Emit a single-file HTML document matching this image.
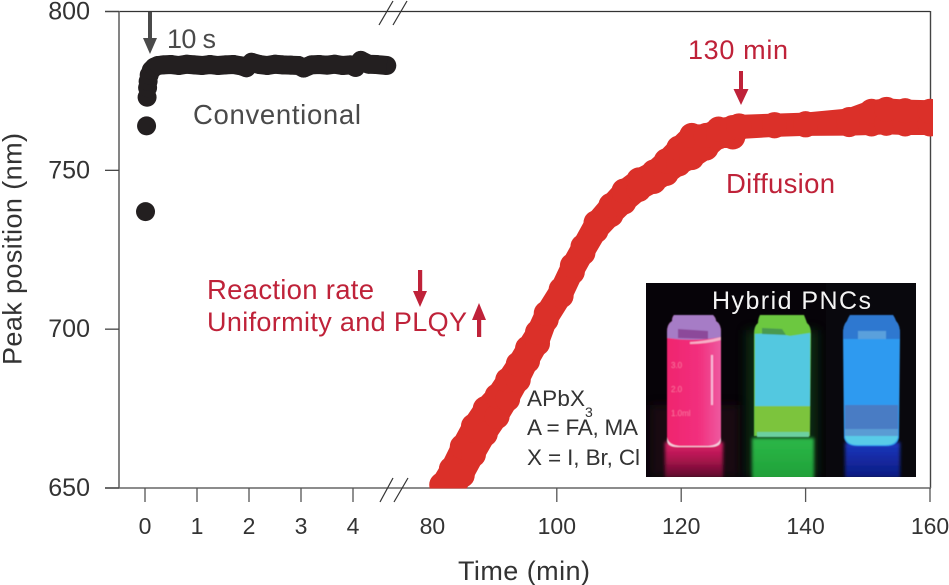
<!DOCTYPE html>
<html lang="en">
<head>
<meta charset="utf-8">
<title>Peak position vs time</title>
<style>
html,body{margin:0;padding:0;background:#fff;width:949px;height:585px;overflow:hidden}
svg{display:block}
text{font-family:"Liberation Sans",sans-serif}
</style>
</head>
<body>
<svg id="chart" xmlns="http://www.w3.org/2000/svg" width="949" height="585" viewBox="0 0 949 585">
<defs>
<clipPath id="plotClip"><rect x="119" y="0" width="814" height="488.5"/></clipPath>
<clipPath id="insetClip"><rect x="646" y="283" width="270" height="194"/></clipPath>
<filter id="b05" x="-10%" y="-10%" width="120%" height="120%"><feGaussianBlur stdDeviation="0.6"/></filter>
<filter id="b1" x="-20%" y="-20%" width="140%" height="140%"><feGaussianBlur stdDeviation="1.5"/></filter>
<filter id="b4" x="-30%" y="-30%" width="160%" height="160%"><feGaussianBlur stdDeviation="5"/></filter>
<linearGradient id="pinkRef" x1="0" y1="0" x2="0" y2="1"><stop offset="0" stop-color="#e0206a"/><stop offset=".5" stop-color="#a8144c"/><stop offset="1" stop-color="#5a0a2a"/></linearGradient>
<linearGradient id="greenRef" x1="0" y1="0" x2="0" y2="1"><stop offset="0" stop-color="#2cb848"/><stop offset="1" stop-color="#1f9f38"/></linearGradient>
<linearGradient id="blueRef" x1="0" y1="0" x2="0" y2="1"><stop offset="0" stop-color="#1c38c0"/><stop offset="1" stop-color="#0c1a80"/></linearGradient>
<linearGradient id="pinkBody" x1="0" y1="0" x2="1" y2="0"><stop offset="0" stop-color="#f0246e"/><stop offset=".6" stop-color="#f2307e"/><stop offset="1" stop-color="#ee5aa0"/></linearGradient>
</defs>

<g id="axes">
  <line x1="105" y1="11.5" x2="930" y2="11.5" stroke="#333" stroke-width="1.2"/>
  <line x1="119" y1="11" x2="119" y2="488" stroke="#666" stroke-width="1.6"/>
  <line x1="930.5" y1="11" x2="930.5" y2="488" stroke="#444" stroke-width="1.4"/>
  <line x1="105" y1="488" x2="931" y2="488" stroke="#666" stroke-width="1.4"/>
  <g stroke="#333" stroke-width="1.2">
    <line x1="379" y1="25" x2="393" y2="1"/><line x1="393" y1="25" x2="407" y2="1"/>
  </g>
  <g stroke="#333" stroke-width="1.2">
    <line x1="380" y1="502" x2="393" y2="478"/><line x1="394" y1="502" x2="408" y2="478"/>
  </g>
</g>
<g id="ticks"></g>
<g id="tickLabels"></g>
<g id="redSeries" clip-path="url(#plotClip)"></g>
<g id="blackSeries"></g>

<text transform="translate(21.5,365) rotate(-90)" font-size="27" fill="#333" textLength="232" lengthAdjust="spacing">Peak position (nm)</text>
<text x="458" y="580" font-size="27" fill="#333" textLength="132" lengthAdjust="spacing">Time (min)</text>

<text x="167" y="48" font-size="27" fill="#4a4a4a" textLength="49" lengthAdjust="spacing">10 s</text>
<text x="193" y="124" font-size="27.5" fill="#4a4a4a" textLength="168" lengthAdjust="spacing">Conventional</text>
<text x="688" y="59" font-size="27" fill="#bf2239" textLength="100" lengthAdjust="spacing">130 min</text>
<text x="726" y="193" font-size="27.5" fill="#bf2239" textLength="109" lengthAdjust="spacing">Diffusion</text>
<text x="207" y="299" font-size="27.5" fill="#bf2239" textLength="167" lengthAdjust="spacing">Reaction rate</text>
<text x="207" y="331" font-size="27" fill="#bf2239" textLength="260" lengthAdjust="spacing">Uniformity and PLQY</text>

<g fill="#333" font-size="22.5">
  <text x="527" y="406" textLength="58" lengthAdjust="spacing">APbX</text>
  <text x="585" y="417" font-size="14">3</text>
  <text x="527" y="435" textLength="111" lengthAdjust="spacing">A = FA, MA</text>
  <text x="527" y="465" textLength="113" lengthAdjust="spacing">X = I, Br, Cl</text>
</g>

<g fill="#4a4a4a">
  <rect x="148" y="12" width="4" height="30"/><polygon points="143,38 157,38 150,54"/>
</g>
<g fill="#bf2239">
  <rect x="739" y="71" width="4" height="24"/><polygon points="733.5,89 748.5,89 741,105"/>
</g>
<g fill="#bf2239">
  <rect x="418" y="270" width="4.2" height="26"/><polygon points="413,291 427,291 420,307"/>
</g>
<g fill="#bf2239">
  <rect x="477" y="315" width="4.2" height="22"/><polygon points="472,320 486,320 479,303"/>
</g>

<g clip-path="url(#insetClip)">
  <rect x="646" y="283" width="270" height="194" fill="#060308"/>
  <rect x="650" y="405" width="90" height="72" fill="#200716" opacity=".7" filter="url(#b4)"/>
  <rect x="746" y="330" width="72" height="147" fill="#0c3a14" opacity=".7" filter="url(#b4)"/>
  <rect x="826" y="283" width="90" height="194" fill="#09080d"/>
  <g filter="url(#b05)">
    <rect x="665" y="442" width="58" height="36" fill="url(#pinkRef)" filter="url(#b1)"/>
    <path d="M674,315 L713,315 Q716,318 716,321 Q721,324 721,332 L721,438 Q721,447 710,447 L678,447 Q667,447 667,438 L667,332 Q667,324 672,321 Q672,317 674,315 Z" fill="url(#pinkBody)"/>
    <path d="M674,315 L713,315 Q716,318 716,321 Q721,324 721,332 L721,337 Q695,342 667,338 L667,332 Q667,324 672,321 Q672,317 674,315 Z" fill="#a67cc6"/>
    <path d="M678,329 L708,331 L708,339 L678,338 Z" fill="#8c4a9a"/>
    <path d="M690,342 Q706,341 721,337 L721,340 Q706,344 690,344 Z" fill="#f6b0c8"/>
    <path d="M667,437 Q668,445 680,446 L708,446 Q720,445 721,437 L721,440 Q721,447 710,447 L678,447 Q667,447 667,440 Z" fill="#f6d0e0"/>
    <rect x="711" y="355" width="2" height="50" fill="#f8b8d8"/>
    <text x="671" y="368" font-size="8" fill="#f8709e">3.0</text>
    <text x="671" y="392" font-size="8" fill="#f8709e">2.0</text>
    <text x="671" y="416" font-size="8" fill="#f8709e">1.0ml</text>
  </g>
  <g filter="url(#b05)">
    <rect x="752" y="438" width="62" height="42" fill="url(#greenRef)" filter="url(#b1)"/>
    <path d="M760,315 L804,315 Q806,320 807,323 Q811,326 811,334 L810,436 L754,436 L754,334 Q754,326 758,323 Q758,319 760,315 Z" fill="#6cc840"/>
    <path d="M755,334 L775,333 L790,336 L810,333 L810,406 L755,406 Z" fill="#52c8e0"/>
    <rect x="755" y="406" width="55" height="27" fill="#7cc43c"/>
    <rect x="757" y="432" width="52" height="5" fill="#6cd0a0"/>
    <path d="M762,328 L782,329 L786,335 L762,334 Z" fill="#4a9a50"/>
  </g>
  <g filter="url(#b05)">
    <rect x="845" y="442" width="55" height="36" fill="url(#blueRef)" filter="url(#b1)"/>
    <path d="M850,315 L893,315 Q895,318 896,321 Q900,325 900,334 L899,438 Q897,446 886,446 L858,446 Q846,446 844,438 L843,334 Q843,325 847,321 Q848,318 850,315 Z" fill="#2e9af0"/>
    <path d="M850,315 L893,315 Q895,318 896,321 Q900,325 900,334 L900,339 L843,339 L843,334 Q843,325 847,321 Q848,318 850,315 Z" fill="#2f78d0"/>
    <rect x="858" y="331" width="28" height="8" fill="#5aa0dc"/>
    <rect x="845" y="405" width="53" height="24" fill="#4a7cc4"/>
    <rect x="845" y="429" width="53" height="8" fill="#5a9cd4"/>
    <path d="M845,436 L898,436 Q897,445 885,445 L858,445 Q846,445 845,436 Z" fill="#58cce8"/>
  </g>
  <text x="712" y="309" font-size="25" fill="#f4f4f4" textLength="159" lengthAdjust="spacing">Hybrid PNCs</text>
</g>

<script>
var yTickValues = [800, 750, 700, 650];
var xEarlyTicks = [0, 1, 2, 3, 4];
var xLateTicks = [100, 120, 140, 160];
var xLateLabels = [80, 100, 120, 140, 160];

var blackTimes = [0.01, 0.03, 0.04, 0.05, 0.06, 0.08, 0.12, 0.18, 0.25, 0.35, 0.5, 0.65, 0.8, 0.95, 1.1, 1.25, 1.4, 1.55, 1.7, 1.85, 1.95, 2.05, 2.2, 2.35, 2.5, 2.65, 2.8, 2.95, 3.05, 3.2, 3.35, 3.5, 3.65, 3.8, 3.95, 4.05, 4.15, 4.3, 4.45, 4.65];
var blackPeaks = [737, 764, 773, 776, 778, 780, 781.5, 782.5, 783, 783.2, 783.3, 783, 783.4, 783.2, 783, 783.3, 783, 783.2, 783.3, 782.9, 782.3, 784, 783.3, 783, 783.4, 783.2, 783.1, 783, 782.2, 783.2, 783.3, 783.1, 783.4, 783, 783.2, 782.4, 784.6, 783.4, 783.3, 783];

var redTimes = [81.5, 83.05, 84.8, 86.6, 88.5, 90.4, 92.1, 93.8, 95.3, 96.9, 98.3, 100.7, 102.5, 104.2, 106.3, 108.7, 110.8, 113.2, 115.6, 117.6, 119.6, 121.7, 124, 126, 128.3, 129.3, 135, 140, 147, 150.6, 153, 156, 160];
var redLow = [644.5, 649, 654, 660.5, 667, 672.5, 678, 684, 690, 695.5, 703, 710.5, 718, 724, 731, 736, 740, 744, 746.5, 749, 752, 754, 757, 760.5, 760.5, 763.3, 764, 764.3, 764.4, 764.6, 764.8, 764.6, 764.6];
var redHigh = [651, 656, 663, 669.5, 675, 679, 684, 689, 694, 699, 705, 712.5, 720, 726, 733.5, 739, 743.5, 747, 749.5, 753, 757, 761, 761, 763, 763.5, 764, 764.4, 764.7, 766, 768.6, 769.2, 768.8, 768.6];

var SVG_NS = 'http://www.w3.org/2000/svg';
function yScale(v) { return 488 - (v - 650) * (476.5 / 150); }
function xEarly(t) { return 145 + t * 52; }
function xLate(t) { return 432.4 + (t - 80) * 6.22; }
function make(tag, parent, attrs) {
  var el = document.createElementNS(SVG_NS, tag);
  for (var k in attrs) { el.setAttribute(k, attrs[k]); }
  parent.appendChild(el);
  return el;
}

var tickGroup = document.getElementById('ticks');
var labelGroup = document.getElementById('tickLabels');

yTickValues.forEach(function (v) {
  var y = yScale(v);
  var t = make('line', tickGroup, { x1: 105, x2: 119, y1: y, y2: y, stroke: '#444', 'stroke-width': 1.3 });
  
  
  var l = make('text', labelGroup, { x: 90, y: y + 8, 'text-anchor': 'end', 'font-size': 25, fill: '#333' });
  
  
  l.textContent = v;
});

xEarlyTicks.forEach(function (v) {
  var x = xEarly(v);
  var t = make('line', tickGroup, { x1: x, x2: x, y1: 488, y2: 502, stroke: '#555', 'stroke-width': 1.3 });
  
  
  var l = make('text', labelGroup, { x: x, y: 534, 'text-anchor': 'middle', 'font-size': 23, fill: '#333' });
  
  
  l.textContent = v;
});

xLateTicks.forEach(function (v) {
  var x = xLate(v);
  var t = make('line', tickGroup, { x1: x, x2: x, y1: 488, y2: 502, stroke: '#555', 'stroke-width': 1.3 });
  
  
});

xLateLabels.forEach(function (v) {
  var l = make('text', labelGroup, { x: xLate(v), y: 534, 'text-anchor': 'middle', 'font-size': 23, fill: '#333' });
  
  
  l.textContent = v;
});

var blackGroup = document.getElementById('blackSeries');
blackTimes.forEach(function (t, i) {
  var d = make('circle', blackGroup, { cx: xEarly(t), cy: yScale(blackPeaks[i]), r: 9.5, fill: '#231f20' });
  
  
});
var blackLinePoints = blackTimes.slice(6).map(function (t, i) {
  return xEarly(t) + ',' + yScale(blackPeaks[i + 6]);
}).join(' ');
var blackLine = make('polyline', blackGroup, { points: blackLinePoints, fill: 'none', stroke: '#231f20', 'stroke-width': 19, 'stroke-linejoin': 'round' });



var redGroup = document.getElementById('redSeries');
var RED = '#db3029';
var lowPts = redTimes.map(function (t, i) { return xLate(t) + ',' + yScale(redLow[i]); });
var highPts = redTimes.map(function (t, i) { return xLate(t) + ',' + yScale(redHigh[i]); });
var band = make('polygon', redGroup, { points: lowPts.concat(highPts.slice().reverse()).join(' '), fill: RED });


var lowLine = make('polyline', redGroup, { points: lowPts.join(' '), fill: 'none', stroke: RED, 'stroke-width': 22, 'stroke-linejoin': 'round' });


var highLine = make('polyline', redGroup, { points: highPts.join(' '), fill: 'none', stroke: RED, 'stroke-width': 22, 'stroke-linejoin': 'round' });


redTimes.forEach(function (t, i) {
  var a = make('circle', redGroup, { cx: xLate(t), cy: yScale(redLow[i]), r: 12.5, fill: RED });
  
  
  var b = make('circle', redGroup, { cx: xLate(t), cy: yScale(redHigh[i]), r: 12.5, fill: RED });
  
  
});
</script>
</svg>
</body>
</html>
